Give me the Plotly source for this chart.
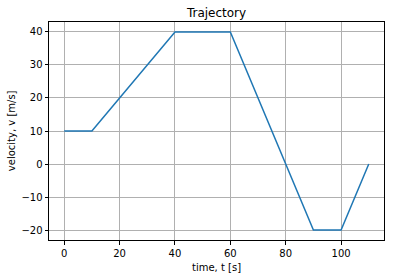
import plotly.graph_objects as go

time_s = [0, 10, 40, 60, 90, 100, 110]
velocity = [10, 10, 40, 40, -20, -20, 0]
x_ticks = [0, 20, 40, 60, 80, 100]
y_ticks = [-20, -10, 0, 10, 20, 30, 40]
y_tick_labels = ["\u221220", "\u221210", "0", "10", "20", "30", "40"]

fig = go.Figure()
fig.add_trace(go.Scatter(x=time_s, y=velocity, mode="lines",
                         line=dict(color="#1f77b4", width=1.5)))

font = dict(family="DejaVu Sans", size=10, color="#000000")
axis_common = dict(showgrid=True, gridcolor="#b0b0b0", gridwidth=0.8,
                   showline=True, linecolor="#000000", linewidth=1, mirror=True,
                   ticks="outside", ticklen=3.5, tickcolor="#000000", tickwidth=0.8,
                   zeroline=False, tickfont=font, automargin=False)

fig.update_layout(
    width=394, height=278,
    margin=dict(l=49, r=10, t=22, b=38),
    paper_bgcolor="white", plot_bgcolor="white",
    showlegend=False,
    title=dict(text="Trajectory", x=0.5, xanchor="center", y=0.953, yanchor="middle",
               xref="paper",
               font=dict(family="DejaVu Sans", size=12, color="#000000")),
    xaxis=dict(range=[-5.5, 115.5], tickvals=x_ticks, **axis_common),
    yaxis=dict(range=[-23, 43], tickvals=y_ticks, ticktext=y_tick_labels, **axis_common),
    annotations=[
        dict(text="time, t [s]", xref="paper", yref="paper", x=0.5, y=-0.125,
             xanchor="center", yanchor="middle", showarrow=False, font=font),
        dict(text="velocity, v [m/s]", xref="paper", yref="paper", x=-0.113, y=0.5,
             xanchor="center", yanchor="middle", textangle=-90, showarrow=False, font=font),
    ],
)

fig.write_html("out.html")
